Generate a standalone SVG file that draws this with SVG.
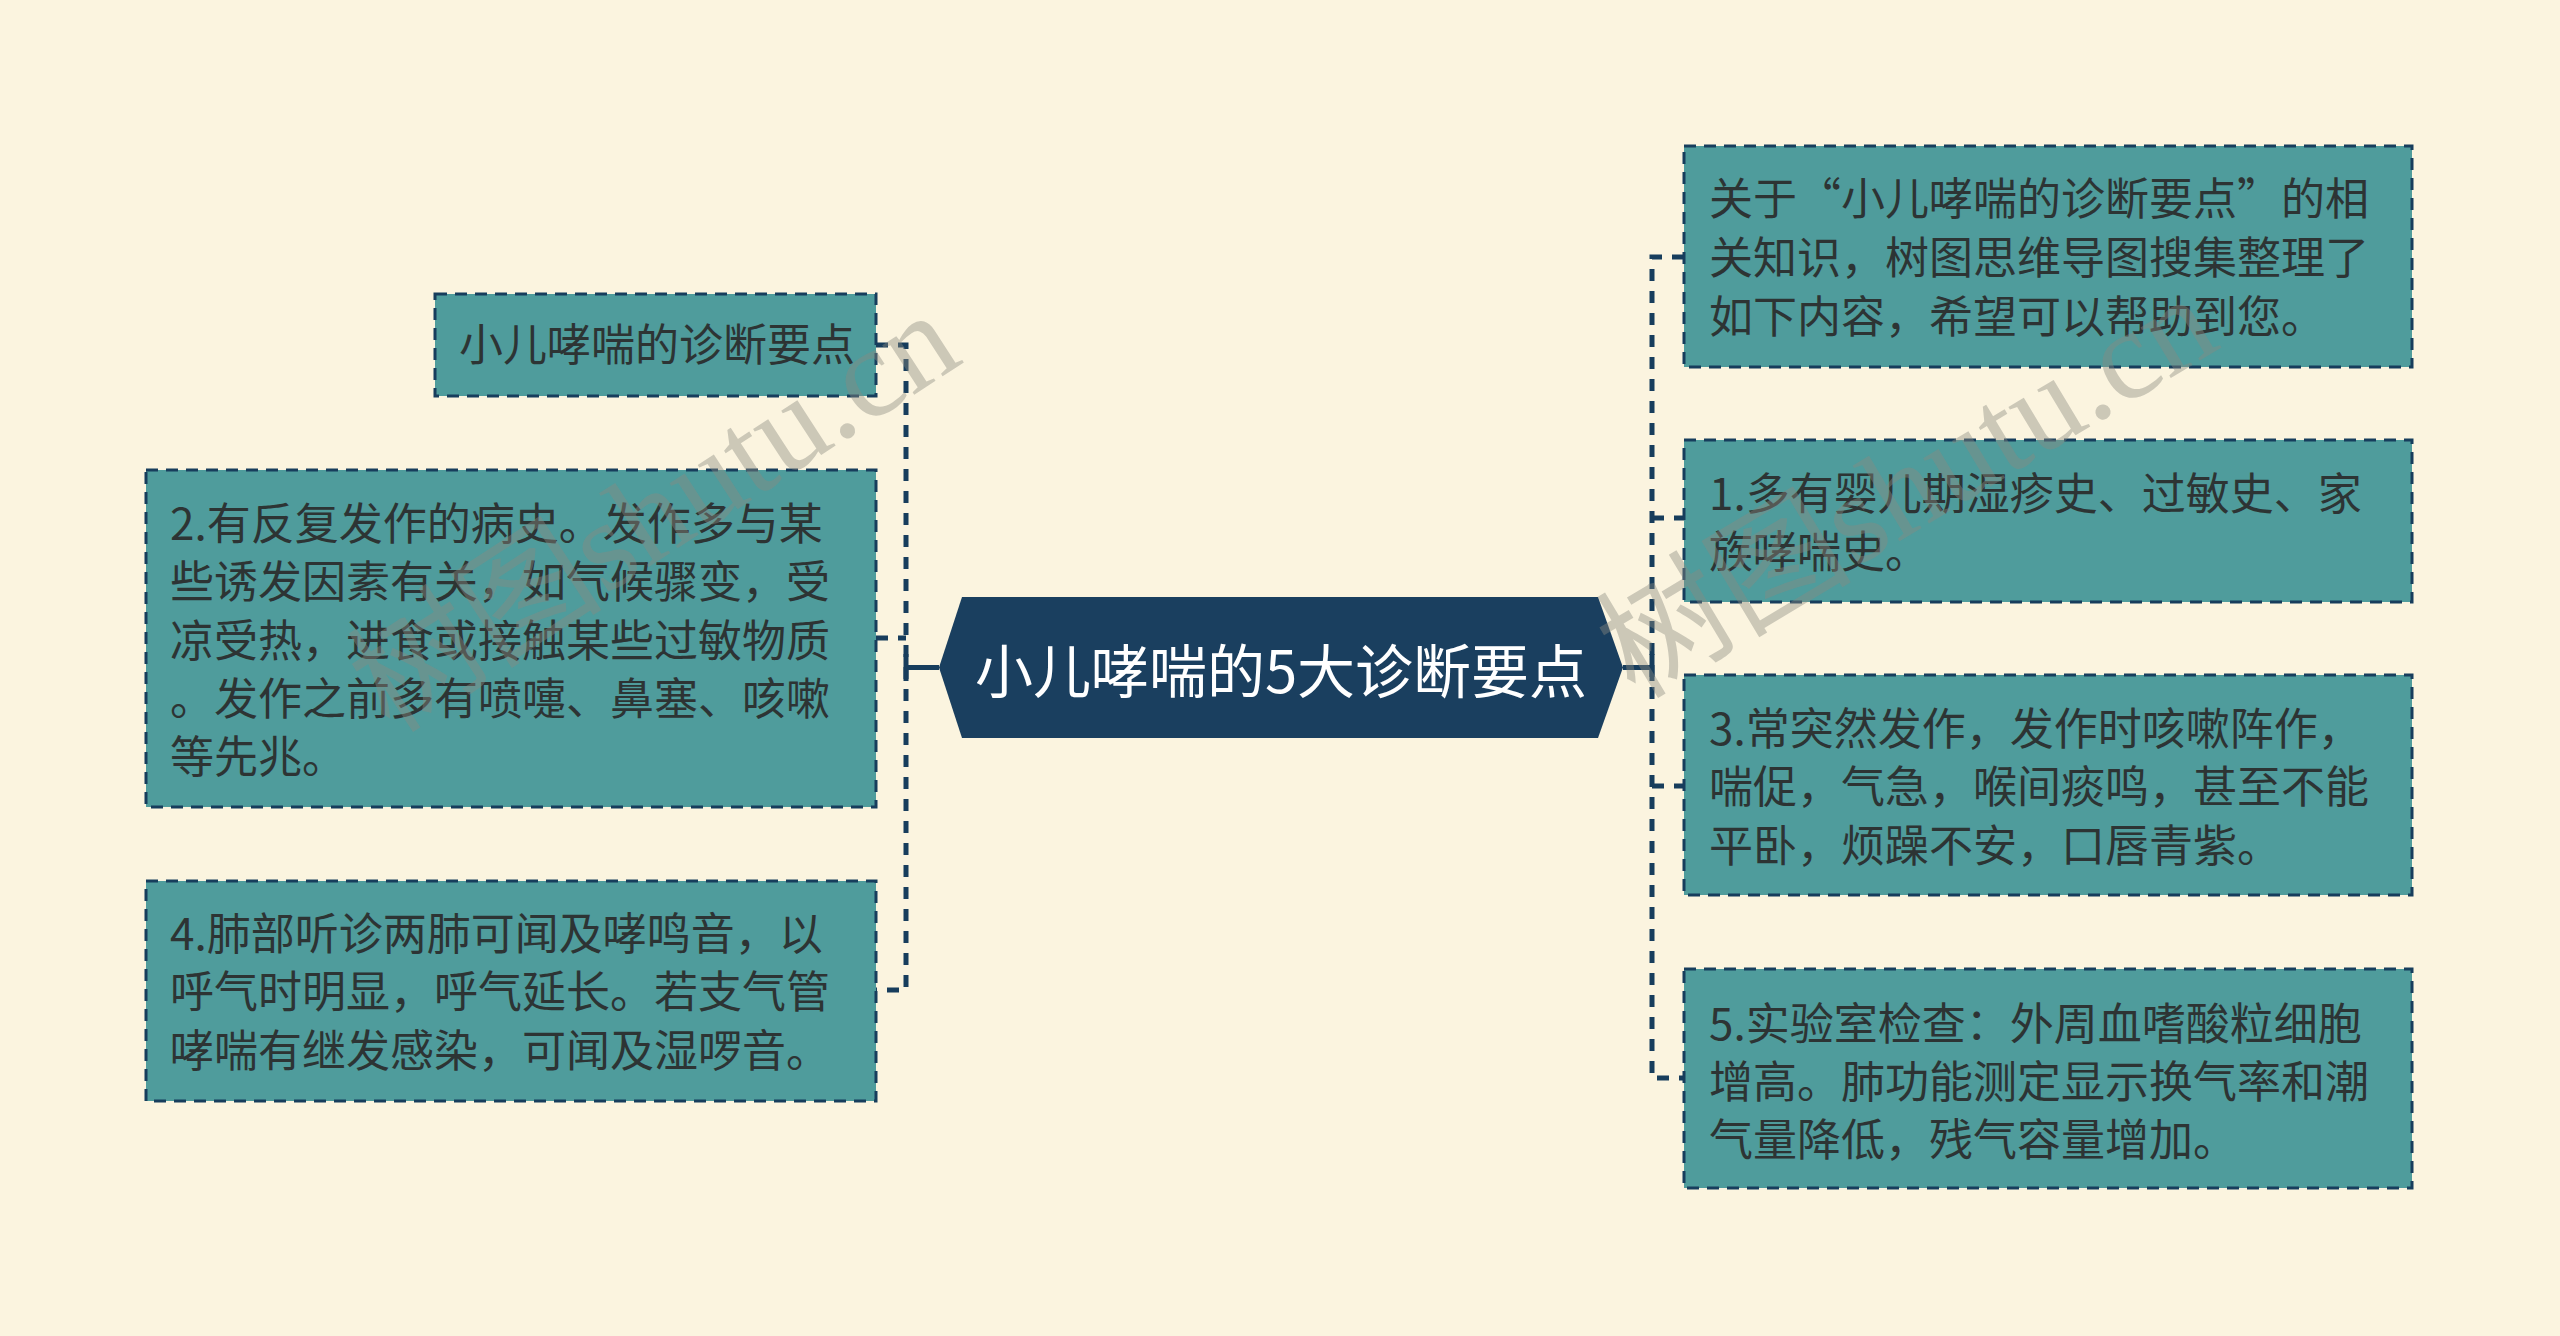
<svg xmlns="http://www.w3.org/2000/svg" width="2560" height="1336" viewBox="0 0 2560 1336">
<style>
.bg{fill:#fbf4df}
.box{fill:#4f9c9c;stroke:#173d5c;stroke-width:3;stroke-dasharray:12 8}
.t{font-family:"Noto Sans CJK SC","Noto Sans",sans-serif;font-size:44px;fill:#2d3434}
.ct{font-family:"Noto Sans CJK SC","Noto Sans",sans-serif;font-size:58px;fill:#ffffff}
.hex{fill:#1a3f5f}
.dash{fill:none;stroke:#173d5c;stroke-width:5;stroke-dasharray:12 10}
.solid{fill:none;stroke:#173d5c;stroke-width:5}
.wm{font-family:"Liberation Serif","Noto Sans CJK SC",serif;font-size:128px;fill:#8a8a80;fill-opacity:0.42}
</style>
<rect class="bg" x="0" y="0" width="2560" height="1336"/>

<g id="connectors">
  <path class="dash" d="M876,345 H906 V990 H876"/>
  <path class="dash" d="M876,638 H906"/>
  <path class="solid" d="M906,667.5 H939 M906,654 V681"/>
  <path class="dash" d="M1684,257 H1652 V1078 H1684"/>
  <path class="dash" d="M1652,518 H1684 M1652,786 H1684"/>
  <path class="solid" d="M1623,667.5 H1652 M1652,654 V681"/>
</g>

<g id="center">
  <polygon class="hex" points="962,597 1598,597 1623,667.5 1598,738 962,738 939,667.5"/>
  <text class="ct" x="1281" y="693" text-anchor="middle">小儿哮喘的5大诊断要点</text>
</g>

<g id="node-title">
  <rect class="box" x="435" y="294" width="441" height="102"/>
  <text class="t" x="459" y="361">小儿哮喘的诊断要点</text>
</g>

<g id="node-2">
  <rect class="box" x="146" y="470" width="730" height="337"/>
  <text class="t" x="170" y="540">2.有反复发作的病史。发作多与某</text>
  <text class="t" x="170" y="598">些诱发因素有关，如气候骤变，受</text>
  <text class="t" x="170" y="657">凉受热，进食或接触某些过敏物质</text>
  <text class="t" x="170" y="715">。发作之前多有喷嚏、鼻塞、咳嗽</text>
  <text class="t" x="170" y="773">等先兆。</text>
</g>

<g id="node-4">
  <rect class="box" x="146" y="881" width="730" height="220"/>
  <text class="t" x="170" y="950">4.肺部听诊两肺可闻及哮鸣音，以</text>
  <text class="t" x="170" y="1008">呼气时明显，呼气延长。若支气管</text>
  <text class="t" x="170" y="1067">哮喘有继发感染，可闻及湿啰音。</text>
</g>

<g id="node-intro">
  <rect class="box" x="1684" y="146" width="728" height="221"/>
  <text class="t" x="1709" y="215">关于“小儿哮喘的诊断要点”的相</text>
  <text class="t" x="1709" y="274">关知识，树图思维导图搜集整理了</text>
  <text class="t" x="1709" y="333">如下内容，希望可以帮助到您。</text>
</g>

<g id="node-1">
  <rect class="box" x="1684" y="440" width="728" height="162"/>
  <text class="t" x="1709" y="510">1.多有婴儿期湿疹史、过敏史、家</text>
  <text class="t" x="1709" y="568">族哮喘史。</text>
</g>

<g id="node-3">
  <rect class="box" x="1684" y="675" width="728" height="220"/>
  <text class="t" x="1709" y="745">3.常突然发作，发作时咳嗽阵作，</text>
  <text class="t" x="1709" y="803">喘促，气急，喉间痰鸣，甚至不能</text>
  <text class="t" x="1709" y="862">平卧，烦躁不安，口唇青紫。</text>
</g>

<g id="node-5">
  <rect class="box" x="1684" y="969" width="728" height="219"/>
  <text class="t" x="1709" y="1040">5.实验室检查：外周血嗜酸粒细胞</text>
  <text class="t" x="1709" y="1098">增高。肺功能测定显示换气率和潮</text>
  <text class="t" x="1709" y="1156">气量降低，残气容量增加。</text>
</g>

<text class="wm" transform="translate(390,735) rotate(-33)">树图shutu.cn</text>
<text class="wm" transform="translate(1635,700) rotate(-31)">树图shutu.cn</text>
</svg>
